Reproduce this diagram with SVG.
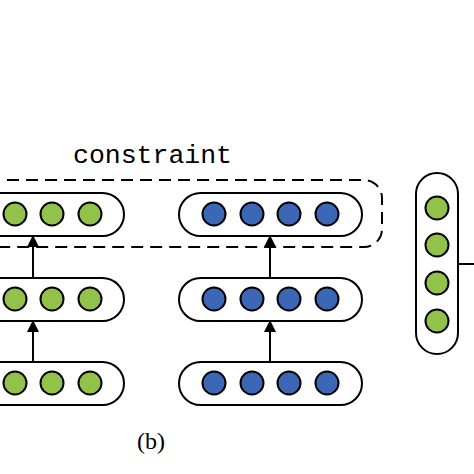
<svg xmlns="http://www.w3.org/2000/svg" width="474" height="474" viewBox="0 0 474 474">
<defs>
<style>
.pill{fill:#fff;stroke:#000;stroke-width:2}
.g{fill:#92c24a;stroke:#000;stroke-width:2}
.b{fill:#3b67b6;stroke:#000;stroke-width:2}
.dash{fill:none;stroke:#000;stroke-width:2;stroke-dasharray:12 7}
.conn{stroke:#000;stroke-width:2;fill:none}
</style>
<marker id="ah" markerWidth="12" markerHeight="12" refX="10" refY="6" orient="auto" markerUnits="userSpaceOnUse">
<path d="M0,0 L12,6 L0,12 Z" fill="#000"/>
</marker>
</defs>
<rect width="474" height="474" fill="#fff"/>
<text x="73" y="163" font-family="Liberation Mono, monospace" font-size="26.5">constraint</text>
<rect id="constraint-box" class="dash" x="-30" y="180" width="412" height="67" rx="18"/>
<g id="green-top">
<rect class="pill" x="-60" y="193" width="184" height="43" rx="21.5"/>
<circle class="g" cx="15" cy="214" r="11.5"/><circle class="g" cx="52" cy="214" r="11.5"/><circle class="g" cx="90" cy="214" r="11.5"/>
</g>
<g id="green-mid">
<rect class="pill" x="-60" y="278" width="184" height="43" rx="21.5"/>
<circle class="g" cx="15" cy="299" r="11.5"/><circle class="g" cx="52" cy="299" r="11.5"/><circle class="g" cx="90" cy="299" r="11.5"/>
</g>
<g id="green-bot">
<rect class="pill" x="-60" y="362" width="184" height="43" rx="21.5"/>
<circle class="g" cx="15" cy="383" r="11.5"/><circle class="g" cx="52" cy="383" r="11.5"/><circle class="g" cx="90" cy="383" r="11.5"/>
</g>
<g id="blue-top">
<rect class="pill" x="179" y="193" width="183" height="43" rx="21.5"/>
<circle class="b" cx="214" cy="214" r="11.5"/><circle class="b" cx="252" cy="214" r="11.5"/><circle class="b" cx="289" cy="214" r="11.5"/><circle class="b" cx="327" cy="214" r="11.5"/>
</g>
<g id="blue-mid">
<rect class="pill" x="179" y="278" width="183" height="43" rx="21.5"/>
<circle class="b" cx="214" cy="299" r="11.5"/><circle class="b" cx="252" cy="299" r="11.5"/><circle class="b" cx="289" cy="299" r="11.5"/><circle class="b" cx="327" cy="299" r="11.5"/>
</g>
<g id="blue-bot">
<rect class="pill" x="179" y="362" width="183" height="43" rx="21.5"/>
<circle class="b" cx="214" cy="383" r="11.5"/><circle class="b" cx="252" cy="383" r="11.5"/><circle class="b" cx="289" cy="383" r="11.5"/><circle class="b" cx="327" cy="383" r="11.5"/>
</g>
<g id="vertical">
<rect class="pill" x="416" y="173" width="42" height="181" rx="21"/>
<circle class="g" cx="437" cy="208" r="11.5"/><circle class="g" cx="437" cy="245" r="11.5"/><circle class="g" cx="437" cy="283" r="11.5"/><circle class="g" cx="437" cy="321" r="11.5"/>
</g>
<g id="connectors">
<line class="conn" x1="33" y1="278" x2="33" y2="237" marker-end="url(#ah)"/>
<line class="conn" x1="33" y1="362" x2="33" y2="322" marker-end="url(#ah)"/>
<line class="conn" x1="270" y1="278" x2="270" y2="237" marker-end="url(#ah)"/>
<line class="conn" x1="270" y1="362" x2="270" y2="322" marker-end="url(#ah)"/>
<line class="conn" x1="458" y1="264" x2="476" y2="264"/>
</g>
<text x="151" y="449" font-family="Liberation Serif, serif" font-size="24" text-anchor="middle">(b)</text>
</svg>
